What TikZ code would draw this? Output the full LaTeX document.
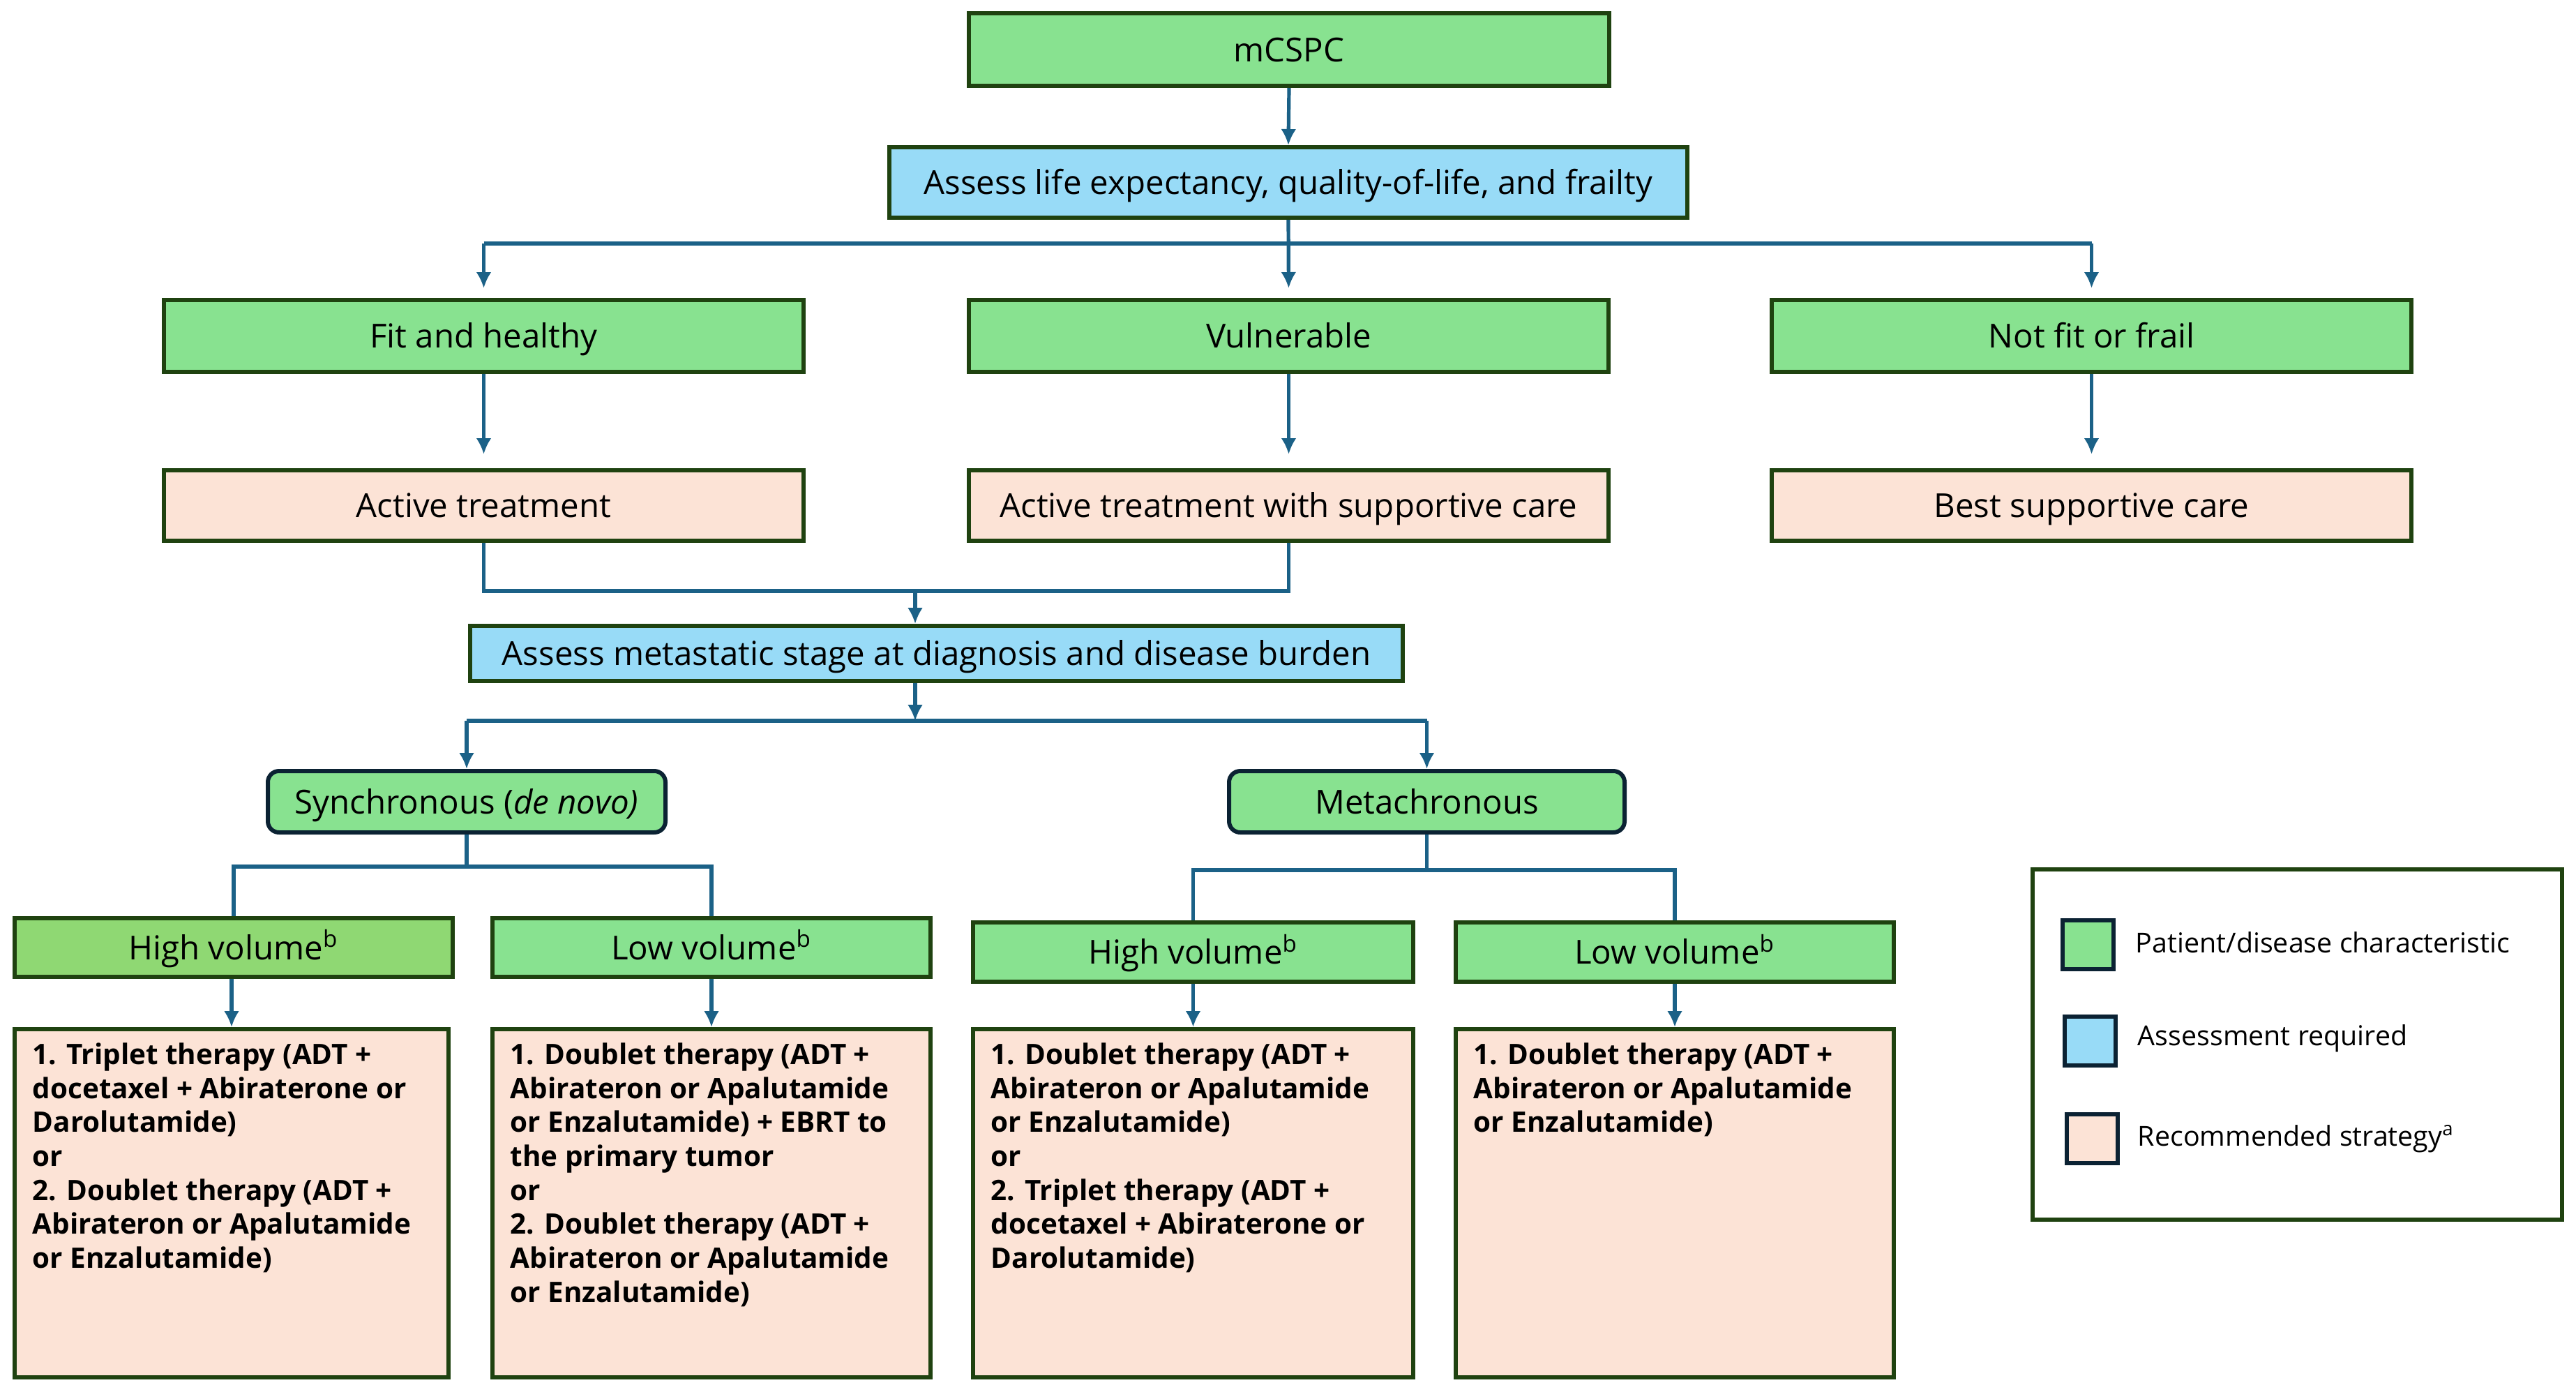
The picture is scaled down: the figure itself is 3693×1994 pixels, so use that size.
\documentclass[tikz,border=0pt]{standalone}
\usepackage{fontspec}
\setmainfont{Open Sans}
\usetikzlibrary{arrows.meta}
\definecolor{gfill}{RGB}{136,226,144}
\definecolor{hvfill}{RGB}{143,216,115}
\definecolor{bfill}{RGB}{152,219,247}
\definecolor{pfill}{RGB}{252,227,214}
\definecolor{bdr}{RGB}{31,66,16}
\definecolor{navy}{RGB}{11,34,51}
\definecolor{lnc}{RGB}{27,97,135}
\tikzset{
  box/.style={draw=bdr, line width=1.5pt, inner sep=0pt, font=\fontsize{11.85}{14}\selectfont, align=center, text height=10.5pt, text depth=2pt},
  gbox/.style={box, fill=gfill},
  bbox/.style={box, fill=bfill},
  pbox/.style={box, fill=pfill},
  rbox/.style={box, fill=gfill, draw=navy, rounded corners=4pt},
  sw/.style={draw=navy, line width=1.5pt, inner sep=0pt, minimum width=18.25pt, minimum height=17.5pt},
  conn/.style={draw=lnc, line width=1.3pt},
  arr/.style={conn, -{Latex[length=5.75pt,width=5.5pt]}},
  ttext/.style={anchor=north west, inner sep=0pt, align=left, font=\bfseries\fontsize{10.1}{12.17}\selectfont},
  ltext/.style={anchor=base west, inner sep=0pt, font=\fontsize{9.85}{11}\selectfont},
}
\begin{document}
\begin{tikzpicture}[x=0.25pt,y=-0.25pt]
\useasboundingbox (0,0) rectangle (3693,1994);
% top level
\node[gbox, minimum width=229.5pt, minimum height=26pt] (mcspc) at (1848,71) {mCSPC};
\node[bbox, minimum width=286pt, minimum height=25.25pt] (assess1) at (1847,261.5) {Assess life expectancy, quality-of-life, and frailty};
\node[gbox, minimum width=229.25pt, minimum height=25.75pt] (fit) at (693.5,481.5) {Fit and healthy};
\node[gbox, minimum width=229.25pt, minimum height=25.75pt] (vul) at (1847.5,481.5) {Vulnerable};
\node[gbox, minimum width=229.25pt, minimum height=25.75pt] (notfit) at (2998.5,481.5) {Not fit or frail};
\node[pbox, minimum width=229.25pt, minimum height=25.25pt] (at) at (693.5,724.5) {Active treatment};
\node[pbox, minimum width=229.25pt, minimum height=25.25pt] (atsc) at (1847.5,724.5) {Active treatment with supportive care};
\node[pbox, minimum width=229.25pt, minimum height=25.25pt] (bsc) at (2998.5,724.5) {Best supportive care};
\node[bbox, minimum width=334.25pt, minimum height=19.75pt] (assess2) at (1342.5,936.5) {Assess metastatic stage at diagnosis and disease burden};
\node[rbox, minimum width=142.5pt, minimum height=22pt] (sync) at (669,1149) {Synchronous (\textit{de novo)}};
\node[rbox, minimum width=141.75pt, minimum height=22pt] (meta) at (2045.5,1149) {Metachronous};
\node[box, fill=hvfill, minimum width=157pt, minimum height=21pt] (hv1) at (335,1358) {High volume\textsuperscript{b}};
\node[gbox, minimum width=157pt, minimum height=21pt] (lv1) at (1020,1358) {Low volume\textsuperscript{b}};
\node[gbox, minimum width=157.75pt, minimum height=21.25pt] (hv2) at (1710.5,1364.5) {High volume\textsuperscript{b}};
\node[gbox, minimum width=157pt, minimum height=21.25pt] (lv2) at (2401,1364.5) {Low volume\textsuperscript{b}};
\node[pbox, minimum width=155.5pt, minimum height=124.75pt] (t1) at (332,1724.5) {};
\node[pbox, minimum width=157pt, minimum height=124.75pt] (t2) at (1020,1724.5) {};
\node[pbox, minimum width=157.75pt, minimum height=124.75pt] (t3) at (1710.5,1724.5) {};
\node[pbox, minimum width=157pt, minimum height=124.75pt] (t4) at (2401,1724.5) {};
\node[ttext] (t1txt) at ([xshift=7pt,yshift=-5.5pt]t1.north west) {1. Triplet therapy (ADT +\\docetaxel + Abiraterone or\\Darolutamide)\\or\\2. Doublet therapy (ADT +\\Abirateron or Apalutamide\\or Enzalutamide)};
\node[ttext] (t2txt) at ([xshift=7pt,yshift=-5.5pt]t2.north west) {1. Doublet therapy (ADT +\\Abirateron or Apalutamide\\or Enzalutamide) + EBRT to\\the primary tumor\\or\\2. Doublet therapy (ADT +\\Abirateron or Apalutamide\\or Enzalutamide)};
\node[ttext] (t3txt) at ([xshift=7pt,yshift=-5.5pt]t3.north west) {1. Doublet therapy (ADT +\\Abirateron or Apalutamide\\or Enzalutamide)\\or\\2. Triplet therapy (ADT +\\docetaxel + Abiraterone or\\Darolutamide)};
\node[ttext] (t4txt) at ([xshift=7pt,yshift=-5.5pt]t4.north west) {1. Doublet therapy (ADT +\\Abirateron or Apalutamide\\or Enzalutamide)};
% legend
\node[draw=bdr, line width=1.5pt, fill=white, inner sep=0pt, minimum width=189.75pt, minimum height=125.5pt] (legend) at (3293.5,1497) {};
\node[sw, fill=gfill] (s1) at (2993.5,1354) {};
\node[sw, fill=bfill] (s2) at (2996,1491.5) {};
\node[sw, fill=pfill] (s3) at (2999.5,1632) {};
\node[ltext] (l1) at (3061,1365) {Patient/disease characteristic};
\node[ltext] (l2) at (3064,1498) {Assessment required};
\node[ltext] (l3) at (3064,1642) {Recommended strategy\textsuperscript{a}};
% connectors
\coordinate (j1) at (1847,349);
\draw[arr] (mcspc.south) -- (assess1.north);
\draw[conn] (fit.north |- j1) -- (notfit.north |- j1);
\draw[arr, shorten >=3.5pt] (assess1.south) -- (vul.north);
\draw[arr, shorten >=3.5pt] (fit.north |- j1) -- (fit.north);
\draw[arr, shorten >=3.5pt] (notfit.north |- j1) -- (notfit.north);
\draw[arr, shorten >=5pt] (fit.south) -- (at.north);
\draw[arr, shorten >=5pt] (vul.south) -- (atsc.north);
\draw[arr, shorten >=5pt] (notfit.south) -- (bsc.north);
\coordinate (j2) at (1312,847);
\draw[conn] (at.south) |- (j2) -| (atsc.south);
\draw[arr] (j2) -- (j2 |- assess2.north);
\coordinate (j3) at (1312,1033);
\draw[arr] (j2 |- assess2.south) -- (j3);
\draw[conn] (sync.north |- j3) -- (meta.north |- j3);
\draw[arr] (sync.north |- j3) -- (sync.north);
\draw[arr] (meta.north |- j3) -- (meta.north);
\coordinate (j4) at (669,1242);
\draw[conn] (sync.south) -- (j4);
\draw[conn] (hv1.north) |- (j4) -| (lv1.north);
\draw[arr] (hv1.south -| t1.north) -- (t1.north);
\draw[arr] (lv1.south) -- (t2.north);
\coordinate (j5) at (2045.5,1247);
\draw[conn] (meta.south) -- (j5);
\draw[conn] (hv2.north) |- (j5) -| (lv2.north);
\draw[arr] (hv2.south) -- (t3.north);
\draw[arr] (lv2.south) -- (t4.north);
\end{tikzpicture}
\end{document}
